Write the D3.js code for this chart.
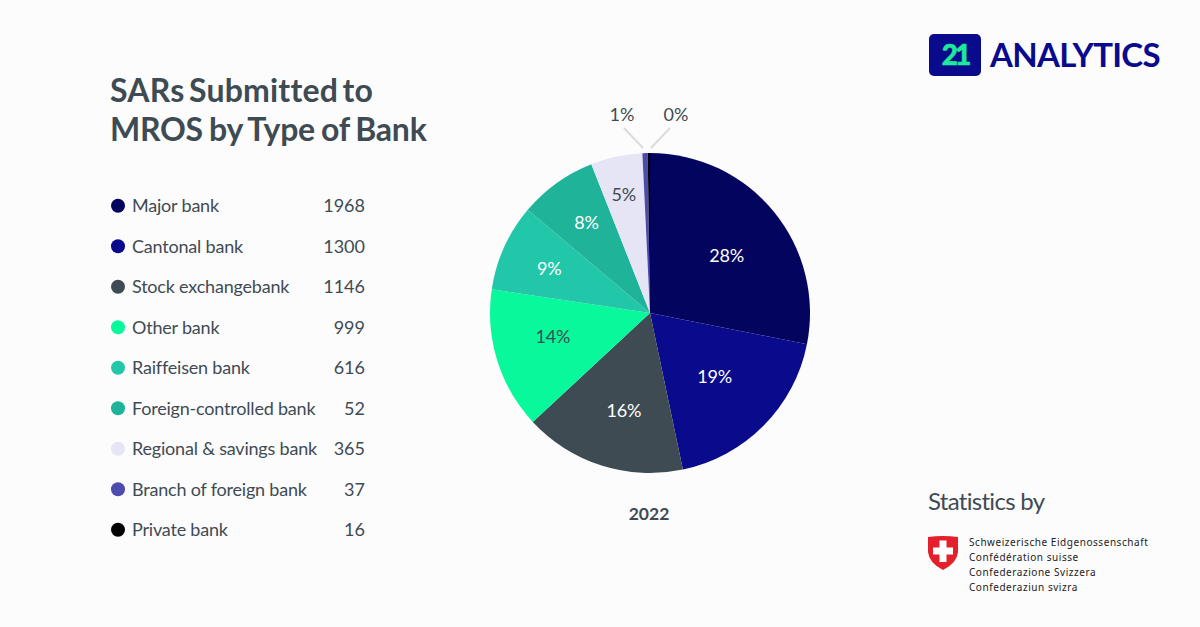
<!DOCTYPE html>
<html>
<head>
<meta charset="utf-8">
<script src="https://cdn.jsdelivr.net/npm/d3@7"></script>
<style>
  html, body { margin: 0; padding: 0; background: #fcfcfc; }
  svg { display: block; }
  text { font-family: Lato, "Open Sans", sans-serif; fill: #3f4b53; }
</style>
</head>
<body>
<div id="vis"></div>
<script>
  var categories = ["Major bank", "Cantonal bank", "Stock exchangebank", "Other bank", "Raiffeisen bank",
    "Foreign-controlled bank", "Regional & savings bank", "Branch of foreign bank", "Private bank"];
  // the printed legend says 52 for foreign-controlled, the slice itself reads about 550
  var legendValues = [1968, 1300, 1146, 999, 616, 52, 365, 37, 16];
  var sliceValues = [1968, 1300, 1146, 999, 616, 550, 365, 37, 16];
  var percentLabels = ["28%", "19%", "16%", "14%", "9%", "8%", "5%", "1%", "0%"];
  var colors = ["#03045e", "#090a8c", "#3f4b53", "#08f89c", "#22c7a9", "#1fb39a", "#e5e5f5", "#4c4cae", "#000000"];
  var swissLines = ["Schweizerische Eidgenossenschaft", "Confédération suisse", "Confederazione Svizzera", "Confederaziun svizra"];

  var width = 1200;
  var height = 627;

  var svg = d3.select("#vis")
    .append("svg")
    .attr("width", width)
    .attr("height", height);

  // Title
  var title = svg.append("text")
    .attr("font-size", 32)
    .attr("font-weight", 700);
  title.append("tspan")
    .attr("x", 110).attr("y", 102)
    .attr("letter-spacing", 0.2)
    .attr("word-spacing", -3.5)
    .text("SARs Submitted to");
  title.append("tspan")
    .attr("x", 110).attr("y", 141)
    .attr("letter-spacing", -0.25)
    .attr("word-spacing", -1.5)
    .text("MROS by Type of Bank");

  // Legend
  var y_scale = d3.scalePoint()
    .domain(categories)
    .range([205.7, 529.7]);

  var rows = svg.selectAll(".row")
    .data(categories)
    .enter()
    .append("g")
    .attr("class", "row")
    .attr("transform", function(d) { return "translate(0," + y_scale(d) + ")"; });

  rows.append("circle")
    .attr("cx", 118)
    .attr("r", 7)
    .attr("fill", function(d, i) { return colors[i]; });

  rows.append("text")
    .attr("x", 132)
    .attr("dy", "0.35em")
    .attr("font-size", 18)
    .attr("letter-spacing", -0.2)
    .text(function(d) { return d; });

  rows.append("text")
    .attr("x", 365)
    .attr("dy", "0.35em")
    .attr("text-anchor", "end")
    .attr("font-size", 18)
    .text(function(d, i) { return legendValues[i]; });

  // Pie
  var radius = 160;
  var pie = d3.pie().sort(null);
  var arcs = pie(sliceValues);
  var arc = d3.arc().innerRadius(0).outerRadius(radius);

  var chart = svg.append("g")
    .attr("transform", "translate(650,313)");

  chart.selectAll(".slice")
    .data(arcs)
    .enter()
    .append("path")
    .attr("class", "slice")
    .attr("d", arc)
    .attr("fill", function(d, i) { return colors[i]; });

  // small slices get pushed further out so the label fits
  var labelRadius = [96, 91, 101, 100, 110, 110, 121];
  var labelNudge = [2.4, 0, -2.6, 3.3, -0.8, 0.4, -0.4]; // degrees
  var darkText = { "14%": true, "5%": true };

  chart.selectAll(".pct")
    .data(arcs.slice(0, 7))
    .enter()
    .append("text")
    .attr("class", "pct")
    .attr("transform", function(d, i) {
      var a = (d.startAngle + d.endAngle) / 2 + labelNudge[i] * Math.PI / 180;
      return "translate(" + labelRadius[i] * Math.sin(a) + "," + (-labelRadius[i] * Math.cos(a)) + ")";
    })
    .attr("dy", "0.35em")
    .attr("text-anchor", "middle")
    .attr("font-size", 18)
    .attr("letter-spacing", -0.2)
    .style("fill", function(d, i) { return darkText[percentLabels[i]] ? "#3f4b53" : "#ffffff"; })
    .text(function(d, i) { return percentLabels[i]; });

  // Outside labels for the two tiny slices
  var outside = [
    { i: 7, x: -28, y: -198, x1: -7, y1: -165, x2: -26, y2: -185 },
    { i: 8, x: 26, y: -198, x1: 1, y1: -165, x2: 20, y2: -185 }
  ];

  chart.selectAll(".leader")
    .data(outside)
    .enter()
    .append("line")
    .attr("class", "leader")
    .attr("x1", function(d) { return d.x1; })
    .attr("y1", function(d) { return d.y1; })
    .attr("x2", function(d) { return d.x2; })
    .attr("y2", function(d) { return d.y2; })
    .attr("stroke", "#dcdcdc")
    .attr("stroke-width", 2);

  chart.selectAll(".pct-out")
    .data(outside)
    .enter()
    .append("text")
    .attr("class", "pct-out")
    .attr("x", function(d) { return d.x; })
    .attr("y", function(d) { return d.y; })
    .attr("dy", "0.35em")
    .attr("text-anchor", "middle")
    .attr("font-size", 18)
    .text(function(d) { return percentLabels[d.i]; });

  svg.append("text")
    .attr("x", 649)
    .attr("y", 514)
    .attr("dy", "0.35em")
    .attr("text-anchor", "middle")
    .attr("font-size", 17.5)
    .attr("font-weight", 700)
    .text("2022");

  // Logo
  var logo = svg.append("g");
  logo.append("rect")
    .attr("x", 929).attr("y", 34)
    .attr("width", 52).attr("height", 42)
    .attr("rx", 5)
    .attr("fill", "#090a8c");
  logo.append("text")
    .attr("x", 955).attr("y", 55)
    .attr("dy", "0.35em")
    .attr("text-anchor", "middle")
    .attr("font-size", 28)
    .attr("font-weight", 900)
    .attr("letter-spacing", -3)
    .style("fill", "#1fe89a")
    .style("stroke", "#1fe89a")
    .style("stroke-width", 0.6)
    .text("21");
  logo.append("text")
    .attr("x", 990).attr("y", 55)
    .attr("dy", "0.35em")
    .attr("font-size", 33)
    .attr("font-weight", 700)
    .attr("letter-spacing", -0.7)
    .style("fill", "#090a8c")
    .text("ANALYTICS");

  // Statistics by + Swiss federal mark
  svg.append("text")
    .attr("x", 928).attr("y", 502)
    .attr("dy", "0.35em")
    .attr("font-size", 24)
    .attr("letter-spacing", -0.7)
    .text("Statistics by");

  var shield = svg.append("g").attr("transform", "translate(928,535)");
  shield.append("path")
    .attr("d", "M0,2 Q15,0 30,2 L30,17 Q29,28 15,35 Q1,28 0,17 Z")
    .attr("fill", "#e3202c");
  shield.append("path")
    .attr("d", "M11.5,5.5 H18.5 V12.5 H25 V19.5 H18.5 V27 H11.5 V19.5 H5 V12.5 H11.5 Z")
    .attr("fill", "#ffffff");

  svg.selectAll(".swiss")
    .data(swissLines)
    .enter()
    .append("text")
    .attr("class", "swiss")
    .attr("x", 969)
    .attr("y", function(d, i) { return 542 + i * 15; })
    .attr("dy", "0.35em")
    .attr("font-size", 10)
    .attr("letter-spacing", 0.55)
    .style("font-family", "'Noto Sans', sans-serif")
    .style("fill", "#222222")
    .text(function(d) { return d; });
</script>
</body>
</html>
